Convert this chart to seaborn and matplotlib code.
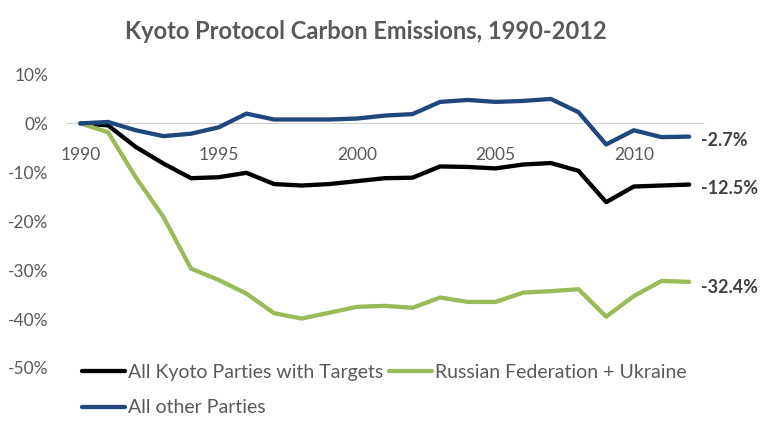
import pandas as pd
import seaborn as sns
import matplotlib.pyplot as plt

# Data (% change vs 1990)
years = list(range(1990, 2013))
kyoto_targets = [0, -0.4, -4.8, -8.2, -11.2, -11.0, -10.1, -12.4, -12.7, -12.4, -11.8, -11.2,
                 -11.1, -8.8, -8.9, -9.2, -8.4, -8.1, -9.7, -16.1, -12.9, -12.7, -12.5]
russia_ukraine = [0, -1.8, -11.0, -19.1, -29.7, -32.0, -34.8, -38.8, -39.9, -38.7, -37.5, -37.3,
                  -37.7, -35.6, -36.5, -36.5, -34.6, -34.3, -33.9, -39.5, -35.3, -32.2, -32.4]
other_parties = [0, 0.3, -1.4, -2.6, -2.1, -0.8, 2.0, 0.8, 0.8, 0.8, 1.0, 1.6,
                 1.9, 4.4, 4.8, 4.4, 4.6, 5.0, 2.3, -4.3, -1.4, -2.8, -2.7]
series_names = ["All Kyoto Parties with Targets", "Russian Federation + Ukraine", "All other Parties"]
end_labels = ["-12.5%", "-32.4%", "-2.7%"]
colors = ["#000000", "#9bbb59", "#1f497d"]

df = pd.DataFrame({"year": years,
                   series_names[0]: kyoto_targets,
                   series_names[1]: russia_ukraine,
                   series_names[2]: other_parties})
long = df.melt(id_vars="year", var_name="series", value_name="change")

sns.set_style("white")
plt.rcParams['font.family'] = ['Lato', 'DejaVu Sans']
grey = "#595959"

fig = plt.figure(figsize=(7.68, 4.37), dpi=100)
ax = fig.add_axes([0.0866, 0.158, 0.8288, 0.6715])

sns.lineplot(data=long, x="year", y="change", hue="series", hue_order=series_names,
             palette=colors, linewidth=3.1, ax=ax, legend=False)

ax.set_xlim(1989.5, 2012.5)
ax.set_ylim(-50, 10)
ax.set_xlabel("")
ax.set_ylabel("")
for s in ["top", "right", "left"]:
    ax.spines[s].set_visible(False)
ax.spines["bottom"].set_position(("data", 0))
ax.spines["bottom"].set_color("#d0d0d0")
ax.spines["bottom"].set_linewidth(0.8)
ax.spines["bottom"].set_zorder(0)

ax.set_xticks([1990, 1995, 2000, 2005, 2010])
ax.set_yticks(range(-50, 11, 10))
ax.set_yticklabels([f"{v}%" for v in range(-50, 11, 10)])
ax.tick_params(axis="x", length=0, pad=17, labelsize=12.5, labelcolor=grey)
ax.tick_params(axis="y", length=0, pad=13, labelsize=12.5, labelcolor=grey)

# labels at end of each line
last = {series_names[0]: kyoto_targets[-1], series_names[1]: russia_ukraine[-1],
        series_names[2]: other_parties[-1]}
offsets = [-4, -6, -4]
for name, lab, dy in zip(series_names, end_labels, offsets):
    ax.annotate(lab, xy=(years[-1], last[name]), xytext=(12, dy), textcoords="offset pixels",
                ha="left", va="center", fontsize=13, fontweight="bold", color="#404040",
                annotation_clip=False)

fig.text(0.476, 0.927, "Kyoto Protocol Carbon Emissions, 1990-2012", ha="center", va="center",
         fontsize=17, fontweight="bold", color=grey)

handles = [plt.Line2D([], [], color=c, linewidth=3.1) for c in colors]
order = [0, 2, 1]
fig.legend([handles[i] for i in order], [series_names[i] for i in order],
           ncol=2, loc="upper left", bbox_to_anchor=(0.097, 0.185), frameon=False,
           fontsize=14, labelcolor=grey, handlelength=2.2, handletextpad=0.15,
           columnspacing=0.3, labelspacing=0.95, borderaxespad=0)

fig.savefig("out.png", dpi=100)
